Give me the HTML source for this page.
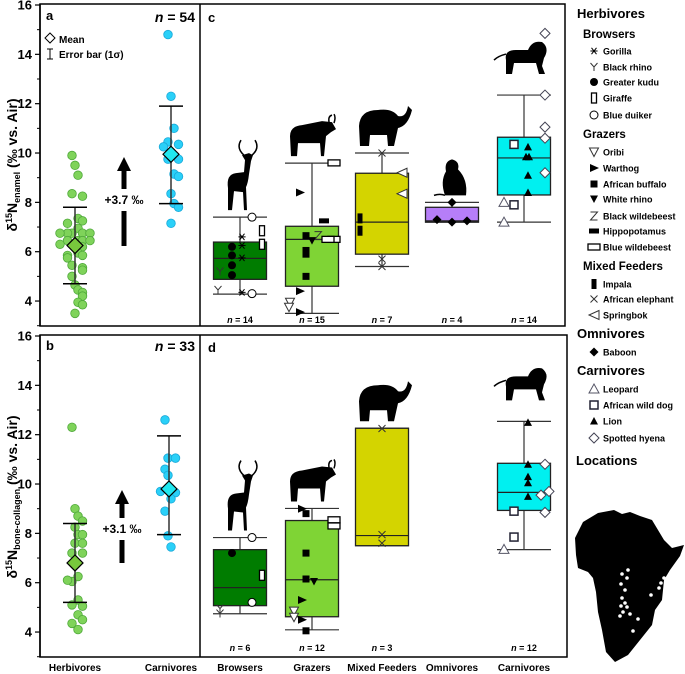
<!DOCTYPE html>
<html><head><meta charset="utf-8"><style>
html,body{margin:0;padding:0;background:#fff;}
svg{display:block;font-family:"Liberation Sans",Arial,sans-serif;}
</style></head><body>
<svg id="fig" width="685" height="674" viewBox="0 0 685 674" xmlns="http://www.w3.org/2000/svg"></svg>
<script>
// ---------- DATA ----------
const herbA = [9.9,9.5,9.1,8.35,8.25,7.35,7.25,7.15,6.95,6.75,6.75,6.75,6.75,6.75,6.45,6.45,6.45,6.45,6.3,6.2,5.95,5.85,5.85,5.75,5.45,5.35,5.25,5.0,4.65,4.45,4.35,4.2,3.95,3.85,3.5];
const carnA = [14.8,12.3,11.0,10.45,10.35,10.25,9.75,9.75,9.15,9.05,8.35,7.95,7.8,7.15];
const meanA = [6.25,9.95];
const sdLowA = [4.7,7.95];
const sdHighA = [7.8,11.9];
const herbB = [12.3,9.0,8.7,8.5,8.25,7.95,7.95,7.6,7.6,7.2,7.2,6.25,6.05,6.1,5.3,5.1,5.05,4.7,4.35,4.5,4.1];
const carnB = [12.6,11.05,11.05,10.6,10.35,9.8,9.65,9.7,9.4,8.9,7.9,7.45];
const meanB = [6.8,9.8];
const sdLowB = [5.2,7.95];
const sdHighB = [8.4,11.95];
const yTicks = [4,6,8,10,12,14,16];
const groups = ["Browsers","Grazers","Mixed Feeders","Omnivores","Carnivores"];
const boxColors = ["#007c00","#7fd435","#d4d400","#b67ef8","#00f0f0"];
// box stats: [whiskerLow, q1, median, q3, whiskerHigh]
const boxC = [[4.28,4.88,5.73,6.39,7.4],[3.5,4.6,6.5,7.03,9.59],[5.4,5.9,7.2,9.18,10.0],[7.2,7.2,7.25,7.8,8.0],[7.2,8.3,9.8,10.64,12.35]];
const nC = [14,15,7,4,14];
const boxD = [[4.74,5.07,5.8,7.34,7.83],[4.09,4.62,6.12,8.52,9.01],[7.5,7.5,7.91,12.26,12.26],null,[7.34,8.93,9.66,10.84,12.54]];
const nD = [6,12,3,null,12];
// species points: [group, jitter, value, symbol]
const ptsC = [[0,-8,6.2,"circF"],[0,-8,5.85,"circF"],[0,-8,5.45,"circF"],[0,-8,5.05,"circF"],[0,2,6.6,"star"],[0,2,6.25,"star"],[0,2,5.75,"star"],[0,2,4.35,"star"],[0,-20,5.2,"Y"],[0,-22,4.45,"Y"],[0,12,7.4,"circO"],[0,12,4.3,"circO"],[0,22,6.85,"gir"],[0,22,6.3,"gir"],
[1,-12,8.4,"triR"],[1,-12,4.4,"triR"],[1,-12,3.55,"triR"],[1,-6,6.65,"sqF"],[1,-6,6.05,"sqF"],[1,-6,5.9,"sqF"],[1,-6,5.0,"sqF"],[1,6,6.65,"Z"],[1,0,6.45,"triDF"],[1,12,7.25,"hippo"],[1,22,9.6,"bwb"],[1,22,6.5,"bwb"],[1,16,6.5,"bwb"],[1,-22,3.95,"triDO"],[1,-23,3.75,"triDO"],
[2,0,10.0,"X"],[2,0,5.7,"X"],[2,0,5.4,"X"],[2,-22,7.35,"imp"],[2,-22,6.85,"imp"],[2,20,9.2,"triLO"],[2,20,8.35,"triLO"],
[3,0,8.0,"diaF"],[3,-15,7.3,"diaF"],[3,0,7.2,"diaF"],[3,15,7.25,"diaF"],
[4,21,14.85,"diaO"],[4,21,12.35,"diaO"],[4,21,11.05,"diaO"],[4,21,10.6,"diaO"],[4,21,9.2,"diaO"],[4,-10,10.35,"sqO"],[4,-10,7.9,"sqO"],[4,4,10.25,"triUF"],[4,2,9.85,"triUF"],[4,5,9.85,"triUF"],[4,4,9.1,"triUF"],[4,4,8.4,"triUF"],[4,-20,8.0,"triUO"],[4,-20,7.2,"triUO"]];
const ptsD = [[0,-8,7.2,"circF"],[0,22,6.3,"gir"],[0,12,5.2,"circO"],[0,12,7.83,"circO"],[0,-20,4.95,"Y"],[0,-20,4.75,"Y"],
[1,-10,9.0,"triR"],[1,-10,5.3,"triR"],[1,-10,4.5,"triR"],[1,-6,8.8,"sqF"],[1,-6,7.2,"sqF"],[1,-6,6.15,"sqF"],[1,-6,4.05,"sqF"],[1,2,6.05,"triDF"],[1,22,8.55,"bwb"],[1,22,8.3,"bwb"],[1,-18,4.85,"triDO"],[1,-18,4.6,"triDO"],
[2,0,12.25,"X"],[2,0,7.95,"X"],[2,0,7.6,"X"],
[4,4,12.5,"triUF"],[4,4,10.8,"triUF"],[4,4,10.3,"triUF"],[4,4,10.05,"triUF"],[4,4,9.5,"triUF"],[4,21,10.8,"diaO"],[4,25,9.7,"diaO"],[4,17,9.55,"diaO"],[4,21,8.85,"diaO"],[4,-10,8.9,"sqO"],[4,-10,7.85,"sqO"],[4,-20,7.35,"triUO"]];
const legendItems = [["h","Herbivores"],["s","Browsers"],["i","star","Gorilla"],["i","Y","Black rhino"],["i","circF","Greater kudu"],["i","gir","Giraffe"],["i","circO","Blue duiker"],["s","Grazers"],["i","triDO","Oribi"],["i","triR","Warthog"],["i","sqF","African buffalo"],["i","triDF","White rhino"],["i","Z","Black wildebeest"],["i","hippo","Hippopotamus"],["i","bwb","Blue wildebeest"],["s","Mixed Feeders"],["i","imp","Impala"],["i","X","African elephant"],["i","triLO","Springbok"],["h","Omnivores"],["i","diaF","Baboon"],["h","Carnivores"],["i","triUO","Leopard"],["i","sqO","African wild dog"],["i","triUF","Lion"],["i","diaO","Spotted hyena"]];
const legendY = [13,33,51,67,82,98,115,133,152,168,184,199,216,231,247,265,284,299,315,333,352,370,389,405,421,438];

// ---------- HELPERS ----------
const NS="http://www.w3.org/2000/svg";
const svg=document.getElementById('fig');
function el(tag,attrs,parent){const e=document.createElementNS(NS,tag);for(const k in attrs)e.setAttribute(k,attrs[k]);(parent||svg).appendChild(e);return e;}
function txt(x,y,s,attrs,parent){const t=el('text',Object.assign({x:x,y:y},attrs||{}),parent);t.textContent=s;return t;}
const yTop=v=>5+(16-v)*24.67;
const yBot=v=>336+(16-v)*24.67;
const boxX=[240,312,382,452,524];

function sym(g,kind,x,y){
  const s=3.6;let e;
  switch(kind){
    case"star":e=el('path',{d:`M${x-s} ${y}H${x+s}M${x-2.5} ${y-3.2}L${x+2.5} ${y+3.2}M${x+2.5} ${y-3.2}L${x-2.5} ${y+3.2}`,stroke:"#000","stroke-width":1,fill:"none"},g);break;
    case"Y":e=el('path',{d:`M${x-3.5} ${y-4}L${x} ${y}L${x+3.5} ${y-4}M${x} ${y}V${y+4}`,stroke:"#333","stroke-width":1,fill:"none"},g);break;
    case"circF":e=el('circle',{cx:x,cy:y,r:4,fill:"#000"},g);break;
    case"circO":e=el('circle',{cx:x,cy:y,r:4,fill:"#fff",stroke:"#000","stroke-width":1},g);break;
    case"gir":e=el('rect',{x:x-2.5,y:y-5,width:5,height:10,fill:"#fff",stroke:"#000","stroke-width":1.3},g);break;
    case"triDO":e=el('path',{d:`M${x-4.5} ${y-4}H${x+4.5}L${x} ${y+4.5}Z`,fill:"#fff",stroke:"#333","stroke-width":1},g);break;
    case"triDF":e=el('path',{d:`M${x-4} ${y-3.5}H${x+4}L${x} ${y+4}Z`,fill:"#000"},g);break;
    case"triR":e=el('path',{d:`M${x-4} ${y-4}L${x+5} ${y}L${x-4} ${y+4}Z`,fill:"#000"},g);break;
    case"triLO":e=el('path',{d:`M${x+5} ${y-4.5}L${x-5} ${y}L${x+5} ${y+4.5}Z`,fill:"#fff",stroke:"#333","stroke-width":1},g);break;
    case"triUO":e=el('path',{d:`M${x-5} ${y+4}H${x+5}L${x} ${y-5}Z`,fill:"#fff",stroke:"#556","stroke-width":1},g);break;
    case"triUF":e=el('path',{d:`M${x-4} ${y+3.5}H${x+4}L${x} ${y-4}Z`,fill:"#000"},g);break;
    case"sqF":e=el('rect',{x:x-3.5,y:y-3.5,width:7,height:7,fill:"#000"},g);break;
    case"sqO":e=el('rect',{x:x-4,y:y-4,width:8,height:8,fill:"#fff",stroke:"#223","stroke-width":1.5},g);break;
    case"Z":e=el('path',{d:`M${x-3.5} ${y-4}H${x+3.5}L${x-3.5} ${y+4}H${x+3.5}`,stroke:"#333","stroke-width":1,fill:"none"},g);break;
    case"hippo":e=el('rect',{x:x-5,y:y-2.5,width:10,height:5,fill:"#000"},g);break;
    case"bwb":e=el('rect',{x:x-6,y:y-3,width:12,height:6,fill:"#fff",stroke:"#000","stroke-width":1.3},g);break;
    case"imp":e=el('rect',{x:x-2.5,y:y-5,width:5,height:10,fill:"#000"},g);break;
    case"X":e=el('path',{d:`M${x-3.5} ${y-3.5}L${x+3.5} ${y+3.5}M${x+3.5} ${y-3.5}L${x-3.5} ${y+3.5}`,stroke:"#333","stroke-width":1,fill:"none"},g);break;
    case"diaF":e=el('path',{d:`M${x} ${y-4.5}L${x+4.5} ${y}L${x} ${y+4.5}L${x-4.5} ${y}Z`,fill:"#000"},g);break;
    case"diaO":e=el('path',{d:`M${x} ${y-5}L${x+5} ${y}L${x} ${y+5}L${x-5} ${y}Z`,fill:"#fff",stroke:"#445","stroke-width":1},g);break;
  }
  return e;
}

// silhouettes (rough)
function kudu(g,cx,by){
  el('path',{d:`M${cx-12} ${by}L${cx-12} ${by-22}Q${cx-14} ${by-36} ${cx-4} ${by-37}L${cx+4} ${by-38}L${cx+5} ${by-50}L${cx+2} ${by-55}L${cx+9} ${by-57}L${cx+13} ${by-55}L${cx+11} ${by-49}L${cx+9} ${by-36}Q${cx+8} ${by-27} ${cx+6} ${by-23}L${cx+7} ${by}L${cx+4} ${by}L${cx+3} ${by-18}L${cx-6} ${by-19}L${cx-8} ${by}Z`,fill:"#000"},g);
  el('path',{d:`M${cx+4} ${by-55}Q${cx-4} ${by-62} ${cx+1} ${by-70}M${cx+12} ${by-55}Q${cx+20} ${by-62} ${cx+15} ${by-70}`,stroke:"#000","stroke-width":1.5,fill:"none"},g);
}
function wildebeest(g,cx,by){
  el('path',{d:`M${cx-21} ${by}L${cx-22} ${by-20}Q${cx-22} ${by-30} ${cx-10} ${by-31}L${cx+10} ${by-35}L${cx+20} ${by-34}L${cx+24} ${by-27}L${cx+19} ${by-24}L${cx+14} ${by-20}L${cx+12} ${by}L${cx+9} ${by}L${cx+8} ${by-13}L${cx-14} ${by-13}L${cx-15} ${by}Z`,fill:"#000"},g);
  el('path',{d:`M${cx+17} ${by-34}Q${cx+16} ${by-40} ${cx+20} ${by-41}M${cx+22} ${by-33}Q${cx+24} ${by-39} ${cx+22} ${by-42}`,stroke:"#000","stroke-width":1.5,fill:"none"},g);
}
function elephant(g,cx,by){
  el('path',{d:`M${cx-22} ${by}L${cx-23} ${by-20}Q${cx-22} ${by-36} ${cx-4} ${by-36}Q${cx+10} ${by-38} ${cx+16} ${by-30}Q${cx+24} ${by-28} ${cx+26} ${by-40}L${cx+30} ${by-36}Q${cx+26} ${by-20} ${cx+16} ${by-18}L${cx+12} ${by}L${cx+6} ${by}L${cx+5} ${by-11}L${cx-12} ${by-11}L${cx-13} ${by}Z`,fill:"#000"},g);
}
function baboon(g,cx,by){
  el('path',{d:`M${cx-7} ${by}Q${cx-12} ${by-14} ${cx-6} ${by-24}Q${cx-8} ${by-34} ${cx} ${by-36}Q${cx+8} ${by-34} ${cx+6} ${by-26}Q${cx+16} ${by-16} ${cx+14} ${by}Z`,fill:"#000"},g);
  el('path',{d:`M${cx-7} ${by}Q${cx-12} ${by-2} ${cx-18} ${by}`,stroke:"#000","stroke-width":1.5,fill:"none"},g);
}
function lion(g,cx,by){
  el('path',{d:`M${cx-18} ${by}L${cx-18} ${by-14}Q${cx-20} ${by-24} ${cx-8} ${by-24}L${cx+4} ${by-24}Q${cx+8} ${by-34} ${cx+18} ${by-32}Q${cx+26} ${by-26} ${cx+20} ${by-16}L${cx+18} ${by-8}L${cx+21} ${by}L${cx+15} ${by}L${cx+12} ${by-11}L${cx-10} ${by-11}L${cx-12} ${by}Z`,fill:"#000"},g);
  el('path',{d:`M${cx-18} ${by-20}Q${cx-26} ${by-18} ${cx-30} ${by-14}`,stroke:"#000","stroke-width":1.5,fill:"none"},g);
}

// ---------- FRAMES & AXES ----------
function yAxis(yf,x,top,bottom,name){
  const g=el('g',{},svg);
  
  
  el('line',{x1:x,y1:top,x2:x,y2:bottom,stroke:"#000","stroke-width":1.5},g);
  yTicks.forEach(v=>{
    const y=yf(v);
    el('line',{x1:x-5,y1:y,x2:x,y2:y,stroke:"#000","stroke-width":1.2},g);
    txt(x-8,y+4.5,String(v),{"text-anchor":"end","font-size":13,"font-weight":"bold"},g);
  });
  for(let v=3;v<16;v+=2){const y=yf(v);if(y<bottom)el('line',{x1:x-3,y1:y,x2:x,y2:y,stroke:"#000","stroke-width":1},g);}
}
el('rect',{x:40,y:4,width:525,height:322,fill:"none",stroke:"#000","stroke-width":1.5});
el('line',{x1:200,y1:4,x2:200,y2:326,stroke:"#000","stroke-width":1.5});
el('rect',{x:40,y:335,width:527,height:322,fill:"none",stroke:"#000","stroke-width":1.5});
el('line',{x1:200,y1:335,x2:200,y2:657,stroke:"#000","stroke-width":1.5});
yAxis(yTop,40,4,326,'y-axis-a');
yAxis(yBot,40,335,657,'y-axis-b');

// y titles
let t=el('text',{x:0,y:0,transform:"translate(17,165) rotate(-90)","text-anchor":"middle","font-size":14,"font-weight":"bold"});

t.innerHTML='δ<tspan font-size="9" dy="-5">15</tspan><tspan dy="5">N</tspan><tspan font-size="9" dy="3">enamel</tspan><tspan dy="-3"> (‰ vs. Air)</tspan>';
t=el('text',{x:0,y:0,transform:"translate(17,497) rotate(-90)","text-anchor":"middle","font-size":14,"font-weight":"bold"});

t.innerHTML='δ<tspan font-size="9" dy="-5">15</tspan><tspan dy="5">N</tspan><tspan font-size="9" dy="3">bone-collagen</tspan><tspan dy="-3"> (‰ vs. Air)</tspan>';

// panel labels
[["a",46,20],["c",208,22],["b",46,350],["d",208,352]].forEach(p=>{const e=txt(p[1],p[2],p[0],{"font-size":13,"font-weight":"bold"});});
let e=txt(195,22,'',{"text-anchor":"end","font-size":14,"font-weight":"bold"});e.innerHTML='<tspan font-style="italic">n</tspan> = 54';
e=txt(195,351,'',{"text-anchor":"end","font-size":14,"font-weight":"bold"});e.innerHTML='<tspan font-style="italic">n</tspan> = 33';

// mini legend in a
const ml=el('g',{});
el('path',{d:"M50 33L55 38L50 43L45 38Z",fill:"#fff",stroke:"#000","stroke-width":1},ml);
txt(59,43,'Mean',{"font-size":10,"font-weight":"bold"},ml);
el('path',{d:"M47 49H53M50 49V59M47 59H53",stroke:"#000","stroke-width":1,fill:"none"},ml);
txt(59,58,'Error bar (1σ)',{"font-size":10,"font-weight":"bold"},ml);

// scatter panels
function scatter(vals,cx,yf,color,name){
  const g=el('g',{});
  vals.forEach((v,i)=>{
    let k=0;for(let j=0;j<i;j++)if(Math.abs(vals[j]-v)<0.2)k++;
    const off=(k%2?1:-1)*Math.ceil(k/2)*7.5 + (k===0?(i%3-1)*3:0);
    const c=el('circle',{cx:cx+off,cy:yf(v),r:4.3,fill:color,stroke:color==="#7fd35a"?"#4fa83a":"#1aa8d8","stroke-width":0.8},g);
    
  });
}
function meanbar(cx,yf,m,lo,hi,color,name){
  const g=el('g',{});
  el('line',{x1:cx,y1:yf(lo),x2:cx,y2:yf(hi),stroke:"#333","stroke-width":1.5},g);
  el('line',{x1:cx-12,y1:yf(lo),x2:cx+12,y2:yf(lo),stroke:"#000","stroke-width":1.5},g);
  el('line',{x1:cx-12,y1:yf(hi),x2:cx+12,y2:yf(hi),stroke:"#000","stroke-width":1.5},g);
  const y=yf(m);el('path',{d:`M${cx} ${y-8}L${cx+8} ${y}L${cx} ${y+8}L${cx-8} ${y}Z`,fill:color,stroke:"#000","stroke-width":1.2},g);
}
scatter(herbA,75,yTop,"#7fd35a",'herbivore-points-a');
scatter(carnA,171,yTop,"#2ad0f8",'carnivore-points-a');
meanbar(75,yTop,meanA[0],sdLowA[0],sdHighA[0],"#78c83c",'herbivore-mean-a');
meanbar(171,yTop,meanA[1],sdLowA[1],sdHighA[1],"#20e8f0",'carnivore-mean-a');
scatter(herbB,75,yBot,"#7fd35a",'herbivore-points-b');
scatter(carnB,168,yBot,"#2ad0f8",'carnivore-points-b');
meanbar(75,yBot,meanB[0],sdLowB[0],sdHighB[0],"#78c83c",'herbivore-mean-b');
meanbar(169,yBot,meanB[1],sdLowB[1],sdHighB[1],"#20e8f0",'carnivore-mean-b');

// arrows
function arrow(x,yt,yb,ytext,label,name){
  const g=el('g',{});
  el('path',{d:`M${x-7} ${yt+14}L${x} ${yt}L${x+7} ${yt+14}Z`,fill:"#000"},g);
  el('rect',{x:x-2.5,y:yt+13,width:5,height:ytext-yt-25},g);
  el('rect',{x:x-2.5,y:ytext+10,width:5,height:yb-ytext-10},g);
  txt(x,ytext+3,label,{"text-anchor":"middle","font-size":12,"font-weight":"bold"},g);
}
arrow(124,157,246,201,'+3.7 ‰','difference-arrow-a');
arrow(122,490,563,530,'+3.1 ‰','difference-arrow-b');

// box panels
function boxes(stats,ns,yf,pts,nY,name){
  const g=el('g',{});
  stats.forEach((s,i)=>{
    if(!s)return;
    const cx=boxX[i],w=53;
    const bg=el('g',{},g);
    el('line',{x1:cx,y1:yf(s[4]),x2:cx,y2:yf(s[0]),stroke:"#333","stroke-width":1.2},bg);
    el('line',{x1:cx-27,y1:yf(s[4]),x2:cx+27,y2:yf(s[4]),stroke:"#333","stroke-width":1.2},bg);
    el('line',{x1:cx-27,y1:yf(s[0]),x2:cx+27,y2:yf(s[0]),stroke:"#333","stroke-width":1.2},bg);
    el('rect',{x:cx-w/2,y:yf(s[3]),width:w,height:yf(s[1])-yf(s[3]),fill:boxColors[i],stroke:"#222","stroke-width":1.3},bg);
    el('line',{x1:cx-w/2,y1:yf(s[2]),x2:cx+w/2,y2:yf(s[2]),stroke:"#222","stroke-width":1.2},bg);
    const nt=txt(cx,nY,'',{"text-anchor":"middle","font-size":9,"font-weight":"bold"},g);
    nt.innerHTML='<tspan font-style="italic">n</tspan> = '+ns[i];
    
    const by=yf(s[4])-7;
    if(i===0)kudu(g,cx,by);else if(i===1)wildebeest(g,cx,by);else if(i===2)elephant(g,cx,by);else if(i===3)baboon(g,cx,by);else lion(g,cx,by-14);
  });
  pts.forEach(p=>{const m=sym(g,p[3],boxX[p[0]]+p[1],yf(p[2]));});
}
boxes(boxC,nC,yTop,ptsC,323,'boxplots-c');
boxes(boxD,nD,yBot,ptsD,651,'boxplots-d');

// x labels
["Herbivores","Carnivores"].forEach((s,i)=>{const e=txt([75,171][i],671,s,{"text-anchor":"middle","font-size":10,"font-weight":"bold"});});
groups.forEach((s,i)=>{const e=txt(boxX[i],671,s,{"text-anchor":"middle","font-size":10,"font-weight":"bold"});});

// legend
const lg=el('g',{});
legendItems.forEach((it,i)=>{
  const y=legendY[i];
  if(it[0]==="h"){const e=txt(577,y+5,it[1],{"font-size":13,"font-weight":"bold"},lg);}
  else if(it[0]==="s"){const e=txt(583,y+5,it[1],{"font-size":11.5,"font-weight":"bold"},lg);}
  else{const gi=el('g',{},lg);sym(gi,it[1],594,y);txt(603,y+3.5,it[2],{"font-size":9,"font-weight":"bold"},gi);}
});
e=txt(576,465,'Locations',{"font-size":13,"font-weight":"bold"});
// map
const mp=el('g',{});
el('path',{d:"M583 522L598 513L614 510L622 514L630 512L640 516L652 520L658 530L664 540L672 548L684 545L680 556L670 570L664 580L662 600L655 610L652 625L640 640L628 655L615 662L606 652L602 630L598 612L596 592L593 578L588 572L578 568L576 555L575 538Z",fill:"#000"},mp);
[[622,574],[627,578],[621,584],[625,590],[622,598],[625,603],[621,606],[627,607],[623,612],[630,614],[620,616],[638,619],[651,595],[661,583],[664,578],[659,588],[666,586],[633,631],[650,640],[628,570]].forEach(p=>el('circle',{cx:p[0],cy:p[1],r:1.8,fill:"#fff"},mp));
</script>
</body></html>
